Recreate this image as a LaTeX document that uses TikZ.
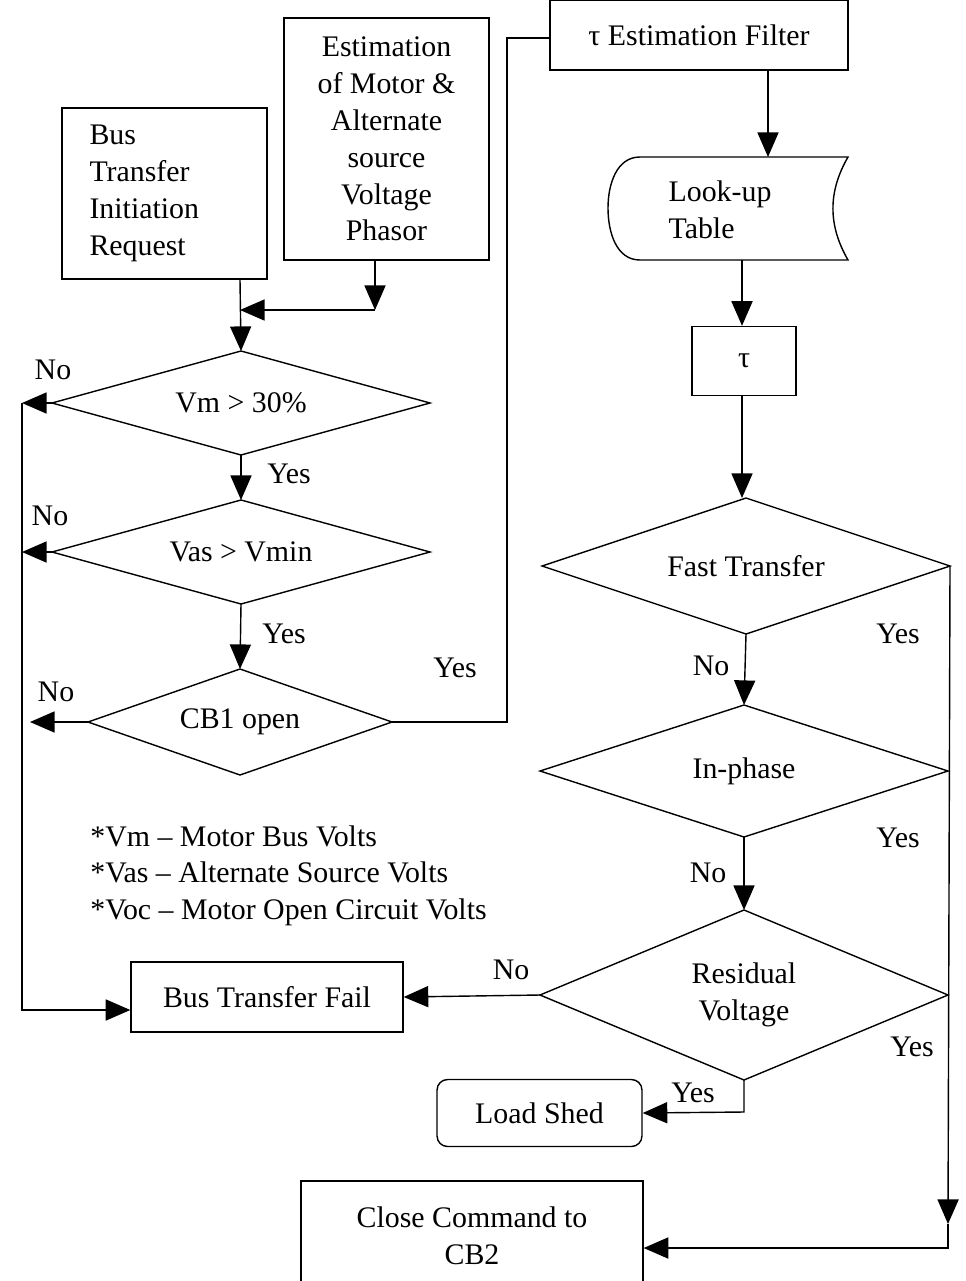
\documentclass[tikz,border=0pt]{standalone}
\usepackage{fontspec}
\setmainfont{Liberation Serif}
\usetikzlibrary{positioning,arrows.meta}
\tikzset{
	box/.style={draw, thick, align=center, inner sep=2pt},
	arr/.style={thick, -{Triangle[length=14pt,width=12pt]}},
	lin/.style={thick},
	lbl/.style={inner sep=1pt}
}
% decision: name, centre x, centre y, half width, half height, text
\newcommand{\decision}[6]{%
	\node[align=center] (#1) at (#2,#3) {#6};
	\coordinate (#1N) at (#2,#3-#5);
	\coordinate (#1S) at (#2,#3+#5);
	\coordinate (#1W) at (#2-#4,#3);
	\coordinate (#1E) at (#2+#4,#3);
	\draw[thick] (#1N) -- (#1E) -- (#1S) -- (#1W) -- cycle;
}
\begin{document}
\begin{tikzpicture}[x=0.02cm,y=-0.02cm,font=\fontsize{17}{21}\selectfont]
	\useasboundingbox (0,0) rectangle (965,1281);
	
	% left column
	\node[box, minimum width=4.1cm, minimum height=3.42cm, align=left, text width=3.0cm] (req) at (164.5,193.5) {Bus\\Transfer\\Initiation\\Request};
	\node[box, minimum width=4.1cm, minimum height=4.84cm] (est) at (386.5,139) {Estimation\\of Motor \&\\Alternate\\source\\Voltage\\Phasor};
	\decision{vm}{241}{403}{189}{52}{Vm > 30\%}
	\decision{vas}{241}{552}{189}{52}{Vas > Vmin}
	\decision{cb}{240}{722}{152}{53}{CB1 open}
	\node[box, minimum width=5.44cm, minimum height=1.4cm] (fail) at (267,997) {Bus Transfer Fail};
	\node[align=left, anchor=north west, inner sep=0pt] (note) at (90,825) {*Vm -- Motor Bus Volts\\*Vas -- Alternate Source Volts\\*Voc -- Motor Open Circuit Volts};
	
	% right column
	\node[box, minimum width=5.96cm, minimum height=1.4cm] (filt) at (699,35) {τ Estimation Filter};
	\node[align=left] (lut) at (720,210) {Look-up\\Table};
	\draw[thick] (640,157) -- (848,157) to[out=-120,in=120] (848,260) -- (640,260) to[out=180,in=-90] (608,208) to[out=90,in=180] cycle;
	\node[box, minimum width=2.08cm, minimum height=1.38cm] (tau) at (744,361) {τ};
	\decision{fast}{746}{566}{204}{68}{Fast Transfer}
	\decision{inph}{744}{771}{204}{66}{In-phase}
	\decision{resid}{744}{995}{204}{85}{Residual\\Voltage}
	\node[box, rounded corners=6pt, minimum width=4.1cm, minimum height=1.34cm] (shed) at (539.5,1113) {Load Shed};
	\node[box, minimum width=6.84cm, minimum height=2.2cm] (close) at (472,1236) {Close Command to\\CB2};
	
	\coordinate (jn) at (240,310);
	\coordinate (lft) at (22,403);
	\coordinate (rgt) at (948,1248);
	
	% connectors, left side
	\draw[arr] (req.south -| jn) -- (vmN);
	\draw[arr] (est.south -| 375,0) -- (375,310);
	\draw[arr] (375,310) -- (jn);
	\draw[arr] (vmW) -- (lft);
	\draw[arr] (vasW) -- (22,552);
	\draw[arr] (cbW) -- (30,722);
	\draw[arr] (lft) -- (22,1010) -- (fail.west |- 0,1010);
	\draw[arr] (vmS) -- (vasN);
	\draw[arr] (vasS) -- (cbN);
	\draw[lin] (cbE) -- (507,722) -- (507,38) -- (filt.west |- 0,38);
	\node[lbl] at (53,370) {No};
	\node[lbl] at (50,516) {No};
	\node[lbl] at (56,692) {No};
	\node[lbl] at (289,474) {Yes};
	\node[lbl] at (284,634) {Yes};
	\node[lbl] at (455,668) {Yes};
	
	% connectors, right side
	\draw[arr] (filt.south -| 768,0) -- (768,157);
	\draw[arr] (742,260) -- (tau.north -| 742,0);
	\draw[arr] (tau.south -| 742,0) -- (742,498);
	\draw[arr] (fastS) -- (inphN);
	\draw[arr] (inphS) -- (residN);
	\draw[arr] (residW) -- (fail.east);
	\draw[arr] (residS) -- (744,1112) -- (shed.east);
	\draw[arr] (fastE) -- (948,1224);
	\draw[arr] (948,1224) -- (rgt) -- (close.east |- rgt);
	\node[lbl] at (711,666) {No};
	\node[lbl] at (708,873) {No};
	\node[lbl] at (511,970) {No};
	\node[lbl] at (693,1093) {Yes};
	\node[lbl] at (898,634) {Yes};
	\node[lbl] at (898,838) {Yes};
	\node[lbl] at (912,1047) {Yes};
\end{tikzpicture}
\end{document}
